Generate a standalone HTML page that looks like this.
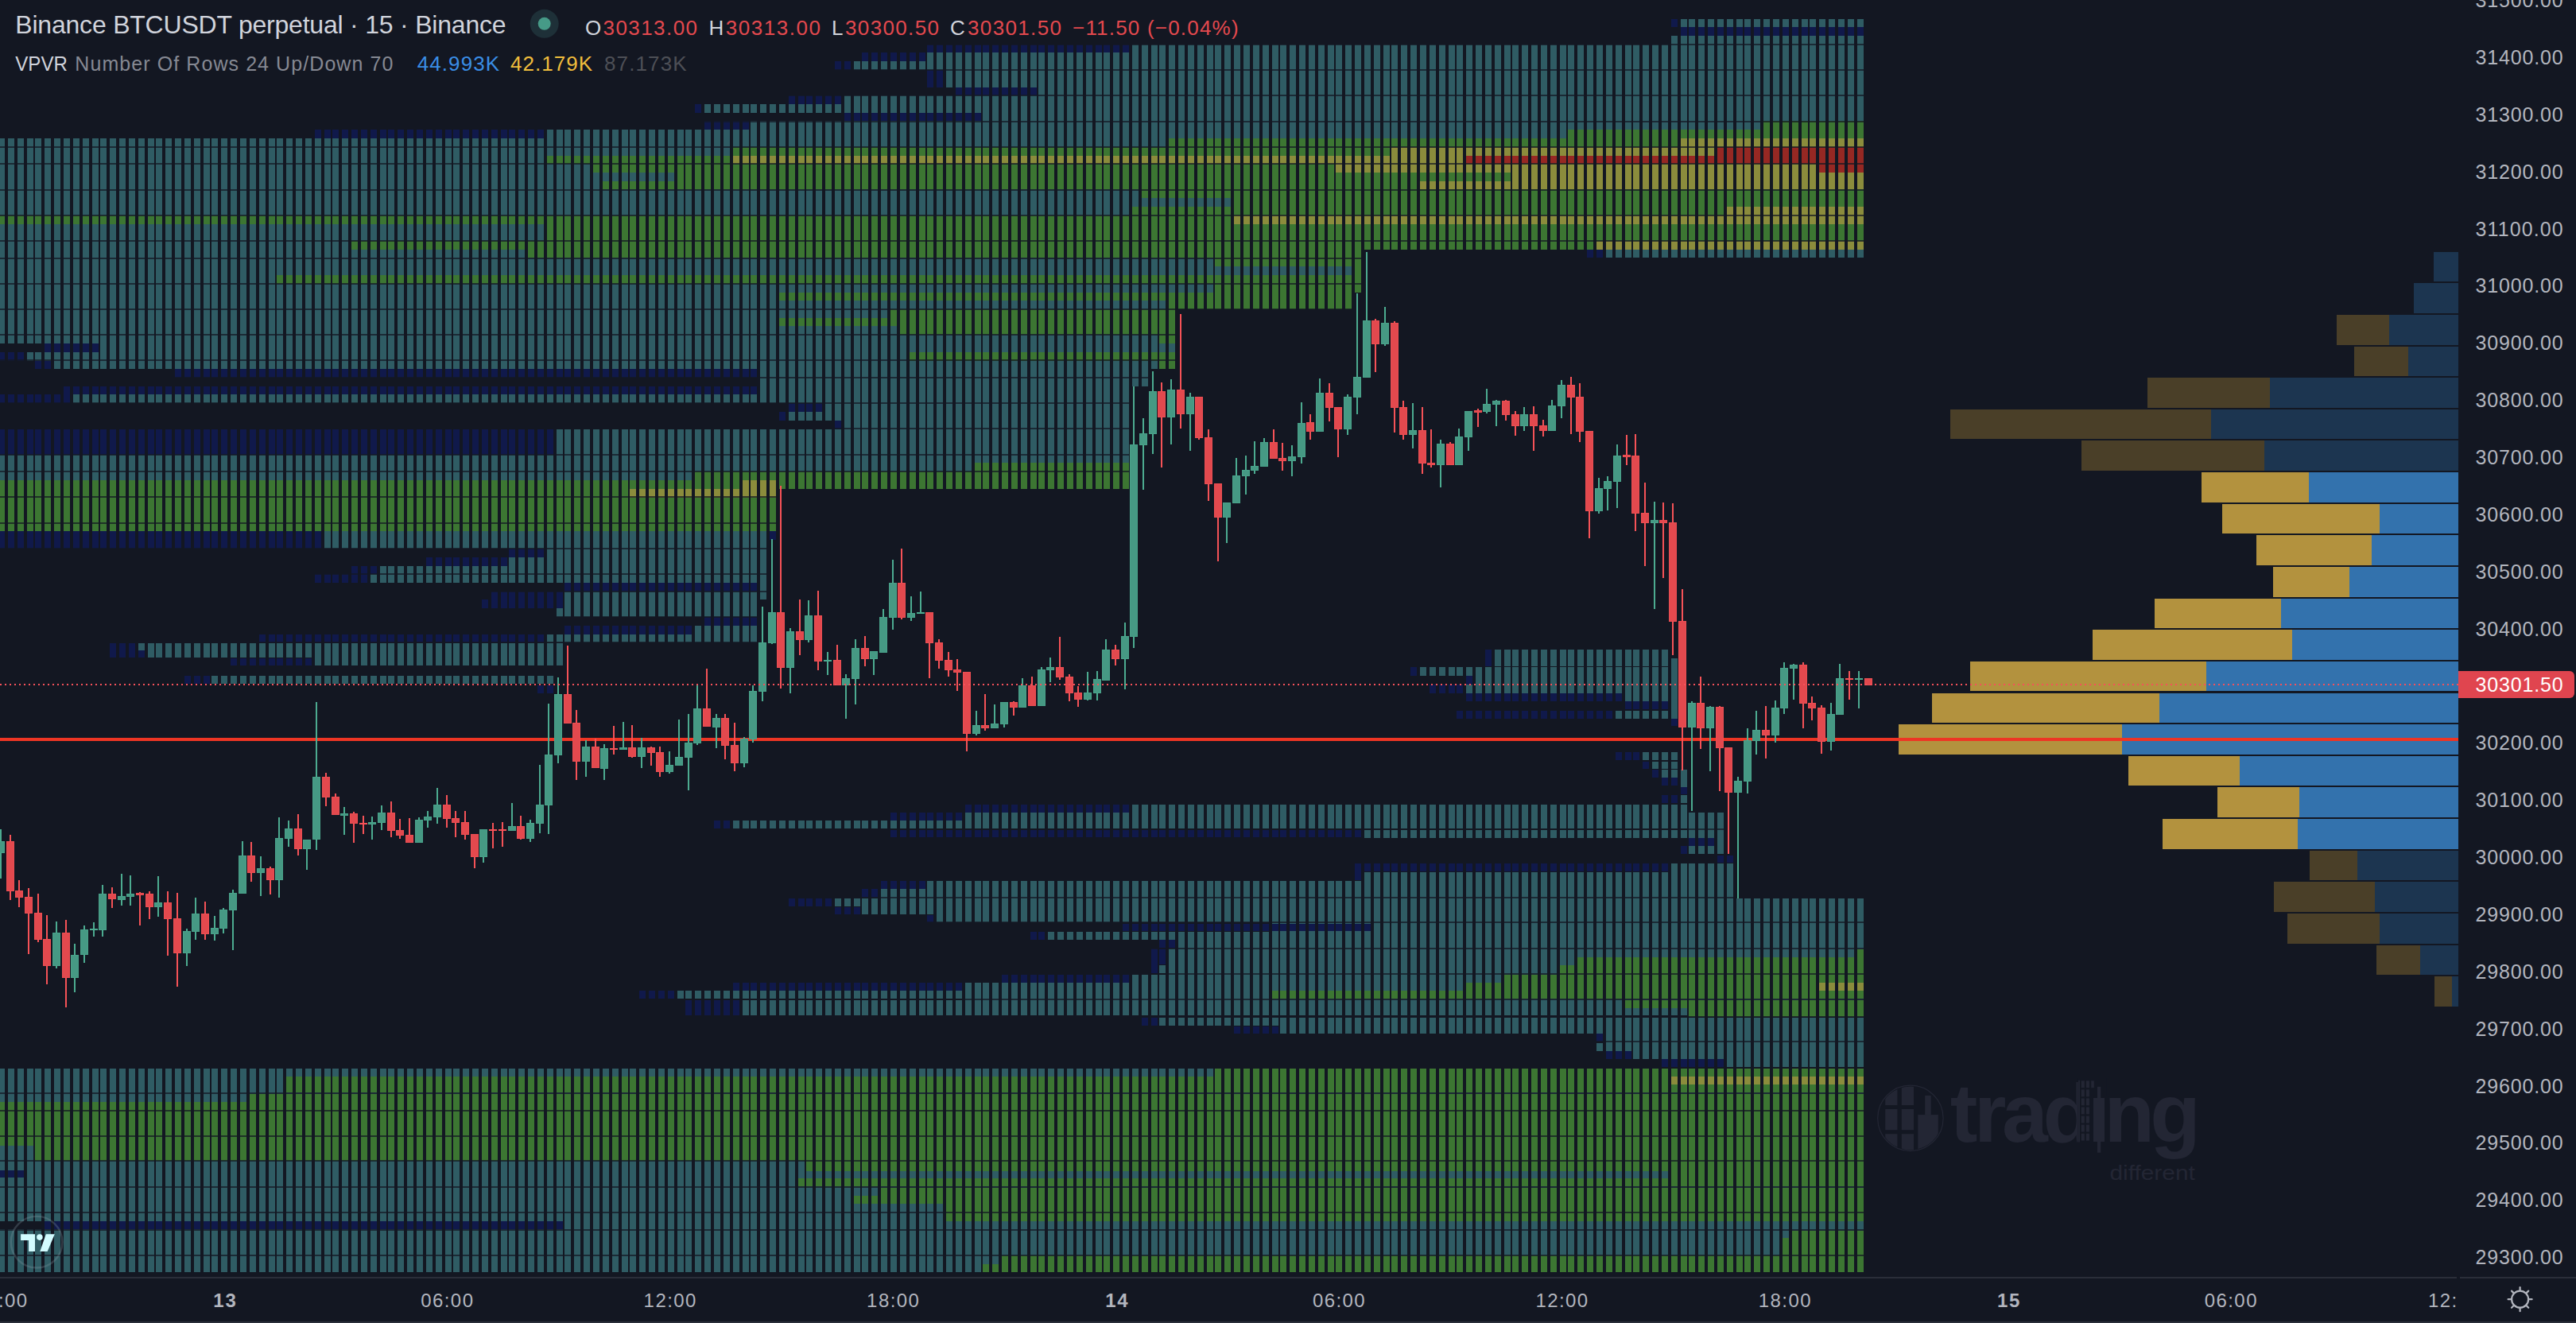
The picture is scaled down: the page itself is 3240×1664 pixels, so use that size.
<!DOCTYPE html>
<html lang="en"><head><meta charset="utf-8"><title>Binance BTCUSDT perpetual</title>
<style>html,body{margin:0;padding:0;background:#131722;overflow:hidden}svg{display:block}text{font-family:"Liberation Sans",sans-serif}</style></head><body>
<svg width="3240" height="1664" viewBox="0 0 3240 1664">
<rect width="3240" height="1664" fill="#131722"/>
<g shape-rendering="crispEdges">
<rect x="2102" y="24" width="8" height="10" fill="#10194b"/>
<rect x="2114" y="24" width="230" height="10" fill="#2f5c64"/>
<rect x="2114" y="34" width="230" height="11" fill="#10194b"/>
<rect x="2102" y="45" width="242" height="11" fill="#2f5c64"/>
<rect x="1166" y="56" width="254" height="10" fill="#10194b"/>
<rect x="1424" y="56" width="920" height="10" fill="#2f5c64"/>
<rect x="1084" y="66" width="80" height="11" fill="#10194b"/>
<rect x="1166" y="66" width="1178" height="11" fill="#2f5c64"/>
<rect x="1050" y="77" width="20" height="11" fill="#10194b"/>
<rect x="1074" y="77" width="1270" height="11" fill="#2f5c64"/>
<rect x="1166" y="88" width="20" height="22" fill="#10194b"/>
<rect x="1190" y="88" width="1154" height="22" fill="#2f5c64"/>
<rect x="1202" y="110" width="102" height="10" fill="#10194b"/>
<rect x="1306" y="110" width="1038" height="10" fill="#2f5c64"/>
<rect x="992" y="120" width="66" height="11" fill="#10194b"/>
<rect x="1062" y="120" width="1282" height="11" fill="#2f5c64"/>
<rect x="874" y="131" width="8" height="11" fill="#10194b"/>
<rect x="886" y="131" width="1458" height="11" fill="#2f5c64"/>
<rect x="1062" y="142" width="172" height="10" fill="#10194b"/>
<rect x="1236" y="142" width="1108" height="10" fill="#2f5c64"/>
<rect x="886" y="152" width="56" height="11" fill="#10194b"/>
<rect x="944" y="152" width="1270" height="11" fill="#2f5c64"/>
<rect x="2218" y="152" width="126" height="11" fill="#3c7632"/>
<rect x="396" y="163" width="288" height="11" fill="#10194b"/>
<rect x="688" y="163" width="1282" height="11" fill="#2f5c64"/>
<rect x="1972" y="163" width="372" height="11" fill="#3c7632"/>
<rect x="0" y="174" width="1466" height="11" fill="#2f5c64"/>
<rect x="1470" y="174" width="640" height="11" fill="#3c7632"/>
<rect x="2114" y="174" width="230" height="11" fill="#8b8c3c"/>
<rect x="0" y="185" width="918" height="11" fill="#2f5c64"/>
<rect x="922" y="185" width="826" height="11" fill="#3c7632"/>
<rect x="1750" y="185" width="406" height="11" fill="#8b8c3c"/>
<rect x="2160" y="185" width="184" height="11" fill="#962823"/>
<rect x="0" y="196" width="684" height="10" fill="#2f5c64"/>
<rect x="688" y="196" width="230" height="10" fill="#3c7632"/>
<rect x="922" y="196" width="918" height="10" fill="#8b8c3c"/>
<rect x="1844" y="196" width="500" height="10" fill="#962823"/>
<rect x="0" y="206" width="742" height="11" fill="#2f5c64"/>
<rect x="746" y="206" width="932" height="11" fill="#3c7632"/>
<rect x="1680" y="206" width="604" height="11" fill="#8b8c3c"/>
<rect x="2288" y="206" width="56" height="11" fill="#962823"/>
<rect x="0" y="217" width="848" height="11" fill="#2f5c64"/>
<rect x="852" y="217" width="1048" height="11" fill="#3c7632"/>
<rect x="1902" y="217" width="442" height="11" fill="#8b8c3c"/>
<rect x="0" y="228" width="754" height="10" fill="#2f5c64"/>
<rect x="758" y="228" width="1024" height="10" fill="#3c7632"/>
<rect x="1786" y="228" width="558" height="10" fill="#8b8c3c"/>
<rect x="0" y="238" width="1432" height="11" fill="#2f5c64"/>
<rect x="1436" y="238" width="908" height="11" fill="#3c7632"/>
<rect x="0" y="249" width="1548" height="11" fill="#2f5c64"/>
<rect x="1552" y="249" width="792" height="11" fill="#3c7632"/>
<rect x="0" y="260" width="1420" height="11" fill="#2f5c64"/>
<rect x="1424" y="260" width="744" height="11" fill="#3c7632"/>
<rect x="2172" y="260" width="172" height="11" fill="#8b8c3c"/>
<rect x="0" y="271" width="1548" height="11" fill="#3c7632"/>
<rect x="1552" y="271" width="792" height="11" fill="#8b8c3c"/>
<rect x="0" y="282" width="684" height="21" fill="#2f5c64"/>
<rect x="688" y="282" width="1656" height="21" fill="#3c7632"/>
<rect x="0" y="303" width="438" height="11" fill="#2f5c64"/>
<rect x="442" y="303" width="1562" height="11" fill="#3c7632"/>
<rect x="2008" y="303" width="336" height="11" fill="#8b8c3c"/>
<rect x="0" y="314" width="660" height="10" fill="#2f5c64"/>
<rect x="664" y="314" width="1048" height="10" fill="#3c7632"/>
<rect x="1996" y="314" width="20" height="10" fill="#10194b"/>
<rect x="2020" y="314" width="324" height="10" fill="#2f5c64"/>
<rect x="0" y="324" width="1526" height="11" fill="#2f5c64"/>
<rect x="1528" y="324" width="184" height="11" fill="#3c7632"/>
<rect x="0" y="335" width="1700" height="11" fill="#2f5c64"/>
<rect x="1704" y="335" width="8" height="11" fill="#3c7632"/>
<rect x="0" y="346" width="346" height="11" fill="#2f5c64"/>
<rect x="348" y="346" width="1364" height="11" fill="#3c7632"/>
<rect x="0" y="357" width="1526" height="11" fill="#2f5c64"/>
<rect x="1528" y="357" width="184" height="11" fill="#3c7632"/>
<rect x="0" y="368" width="976" height="10" fill="#2f5c64"/>
<rect x="980" y="368" width="720" height="10" fill="#3c7632"/>
<rect x="0" y="378" width="1466" height="11" fill="#2f5c64"/>
<rect x="1470" y="378" width="230" height="11" fill="#3c7632"/>
<rect x="0" y="389" width="1116" height="11" fill="#2f5c64"/>
<rect x="1120" y="389" width="358" height="11" fill="#3c7632"/>
<rect x="0" y="400" width="976" height="10" fill="#2f5c64"/>
<rect x="980" y="400" width="498" height="10" fill="#3c7632"/>
<rect x="0" y="410" width="1128" height="11" fill="#2f5c64"/>
<rect x="1132" y="410" width="346" height="11" fill="#3c7632"/>
<rect x="0" y="421" width="1456" height="11" fill="#2f5c64"/>
<rect x="1458" y="421" width="20" height="11" fill="#3c7632"/>
<rect x="56" y="432" width="68" height="11" fill="#10194b"/>
<rect x="126" y="432" width="1352" height="11" fill="#2f5c64"/>
<rect x="0" y="443" width="30" height="11" fill="#10194b"/>
<rect x="34" y="443" width="1106" height="11" fill="#2f5c64"/>
<rect x="1144" y="443" width="334" height="11" fill="#3c7632"/>
<rect x="44" y="454" width="20" height="10" fill="#10194b"/>
<rect x="68" y="454" width="1388" height="10" fill="#2f5c64"/>
<rect x="1458" y="454" width="20" height="10" fill="#3c7632"/>
<rect x="220" y="464" width="732" height="11" fill="#10194b"/>
<rect x="956" y="464" width="488" height="22" fill="#2f5c64"/>
<rect x="80" y="486" width="872" height="10" fill="#10194b"/>
<rect x="956" y="486" width="464" height="10" fill="#2f5c64"/>
<rect x="0" y="496" width="88" height="11" fill="#10194b"/>
<rect x="92" y="496" width="1328" height="11" fill="#2f5c64"/>
<rect x="992" y="507" width="42" height="11" fill="#10194b"/>
<rect x="1038" y="507" width="382" height="11" fill="#2f5c64"/>
<rect x="980" y="518" width="8" height="11" fill="#10194b"/>
<rect x="992" y="518" width="428" height="11" fill="#2f5c64"/>
<rect x="1050" y="529" width="8" height="11" fill="#10194b"/>
<rect x="1062" y="529" width="358" height="11" fill="#2f5c64"/>
<rect x="0" y="540" width="696" height="32" fill="#10194b"/>
<rect x="700" y="540" width="720" height="32" fill="#2f5c64"/>
<rect x="0" y="572" width="1420" height="10" fill="#2f5c64"/>
<rect x="0" y="582" width="1222" height="11" fill="#2f5c64"/>
<rect x="1226" y="582" width="194" height="11" fill="#3c7632"/>
<rect x="0" y="593" width="870" height="11" fill="#2f5c64"/>
<rect x="874" y="593" width="546" height="11" fill="#3c7632"/>
<rect x="0" y="604" width="930" height="11" fill="#3c7632"/>
<rect x="934" y="604" width="42" height="11" fill="#8b8c3c"/>
<rect x="980" y="604" width="440" height="11" fill="#3c7632"/>
<rect x="0" y="615" width="790" height="11" fill="#3c7632"/>
<rect x="792" y="615" width="184" height="11" fill="#8b8c3c"/>
<rect x="0" y="626" width="976" height="42" fill="#3c7632"/>
<rect x="968" y="668" width="8" height="11" fill="#10194b"/>
<rect x="0" y="668" width="404" height="22" fill="#10194b"/>
<rect x="408" y="668" width="556" height="22" fill="#2f5c64"/>
<rect x="640" y="690" width="44" height="11" fill="#10194b"/>
<rect x="688" y="690" width="276" height="11" fill="#2f5c64"/>
<rect x="536" y="701" width="102" height="11" fill="#10194b"/>
<rect x="640" y="701" width="324" height="11" fill="#2f5c64"/>
<rect x="442" y="712" width="32" height="10" fill="#10194b"/>
<rect x="478" y="712" width="486" height="10" fill="#2f5c64"/>
<rect x="396" y="722" width="66" height="11" fill="#10194b"/>
<rect x="466" y="722" width="498" height="11" fill="#2f5c64"/>
<rect x="710" y="733" width="242" height="11" fill="#10194b"/>
<rect x="956" y="733" width="8" height="11" fill="#2f5c64"/>
<rect x="618" y="744" width="90" height="10" fill="#10194b"/>
<rect x="710" y="744" width="254" height="10" fill="#2f5c64"/>
<rect x="606" y="754" width="102" height="11" fill="#10194b"/>
<rect x="710" y="754" width="242" height="11" fill="#2f5c64"/>
<rect x="700" y="765" width="252" height="11" fill="#2f5c64"/>
<rect x="886" y="776" width="66" height="11" fill="#10194b"/>
<rect x="710" y="787" width="160" height="11" fill="#10194b"/>
<rect x="874" y="787" width="78" height="11" fill="#2f5c64"/>
<rect x="326" y="798" width="358" height="10" fill="#10194b"/>
<rect x="688" y="798" width="264" height="10" fill="#2f5c64"/>
<rect x="138" y="809" width="32" height="9" fill="#10194b"/>
<rect x="174" y="809" width="534" height="9" fill="#2f5c64"/>
<rect x="138" y="818" width="44" height="9" fill="#10194b"/>
<rect x="186" y="818" width="522" height="9" fill="#2f5c64"/>
<rect x="1880" y="817" width="218" height="11" fill="#2f5c64"/>
<rect x="396" y="827" width="312" height="10" fill="#2f5c64"/>
<rect x="290" y="828" width="102" height="9" fill="#10194b"/>
<rect x="1868" y="817" width="8" height="21" fill="#10194b"/>
<rect x="1880" y="828" width="230" height="10" fill="#2f5c64"/>
<rect x="2102" y="838" width="8" height="1" fill="#2f5c64"/>
<rect x="1774" y="839" width="8" height="11" fill="#10194b"/>
<rect x="1786" y="839" width="324" height="11" fill="#2f5c64"/>
<rect x="232" y="850" width="32" height="10" fill="#10194b"/>
<rect x="266" y="850" width="430" height="10" fill="#2f5c64"/>
<rect x="1844" y="850" width="8" height="11" fill="#10194b"/>
<rect x="1856" y="850" width="254" height="11" fill="#2f5c64"/>
<rect x="1798" y="861" width="42" height="11" fill="#10194b"/>
<rect x="1844" y="861" width="266" height="11" fill="#2f5c64"/>
<rect x="676" y="862" width="20" height="10" fill="#10194b"/>
<rect x="1844" y="872" width="196" height="10" fill="#10194b"/>
<rect x="2044" y="872" width="66" height="10" fill="#2f5c64"/>
<rect x="2044" y="882" width="54" height="10" fill="#10194b"/>
<rect x="2102" y="882" width="8" height="12" fill="#2f5c64"/>
<rect x="1832" y="894" width="196" height="10" fill="#10194b"/>
<rect x="2032" y="894" width="78" height="10" fill="#2f5c64"/>
<rect x="2102" y="904" width="8" height="9" fill="#10194b"/>
<rect x="2032" y="946" width="30" height="10" fill="#10194b"/>
<rect x="2066" y="946" width="44" height="10" fill="#2f5c64"/>
<rect x="2066" y="958" width="8" height="9" fill="#10194b"/>
<rect x="2078" y="958" width="32" height="9" fill="#2f5c64"/>
<rect x="2078" y="968" width="8" height="10" fill="#10194b"/>
<rect x="2090" y="968" width="32" height="10" fill="#2f5c64"/>
<rect x="2090" y="978" width="20" height="10" fill="#10194b"/>
<rect x="2114" y="978" width="8" height="12" fill="#2f5c64"/>
<rect x="2114" y="990" width="8" height="9" fill="#10194b"/>
<rect x="2090" y="1000" width="20" height="10" fill="#10194b"/>
<rect x="2114" y="1000" width="8" height="10" fill="#2f5c64"/>
<rect x="1214" y="1012" width="206" height="10" fill="#10194b"/>
<rect x="1424" y="1012" width="698" height="10" fill="#2f5c64"/>
<rect x="1120" y="1022" width="90" height="10" fill="#10194b"/>
<rect x="1214" y="1022" width="954" height="10" fill="#2f5c64"/>
<rect x="898" y="1032" width="20" height="10" fill="#10194b"/>
<rect x="922" y="1032" width="1246" height="10" fill="#2f5c64"/>
<rect x="2124" y="1042" width="44" height="2" fill="#2f5c64"/>
<rect x="1120" y="1044" width="592" height="9" fill="#10194b"/>
<rect x="1716" y="1044" width="452" height="10" fill="#2f5c64"/>
<rect x="2124" y="1054" width="32" height="10" fill="#10194b"/>
<rect x="2160" y="1054" width="8" height="10" fill="#2f5c64"/>
<rect x="2114" y="1064" width="8" height="10" fill="#10194b"/>
<rect x="2124" y="1064" width="44" height="10" fill="#2f5c64"/>
<rect x="2160" y="1076" width="20" height="9" fill="#10194b"/>
<rect x="1704" y="1086" width="394" height="10" fill="#10194b"/>
<rect x="2102" y="1086" width="78" height="11" fill="#2f5c64"/>
<rect x="1704" y="1096" width="8" height="11" fill="#10194b"/>
<rect x="1716" y="1097" width="464" height="11" fill="#2f5c64"/>
<rect x="1108" y="1108" width="56" height="10" fill="#10194b"/>
<rect x="1166" y="1108" width="1014" height="10" fill="#2f5c64"/>
<rect x="1084" y="1118" width="20" height="11" fill="#10194b"/>
<rect x="1108" y="1118" width="1072" height="12" fill="#2f5c64"/>
<rect x="992" y="1130" width="54" height="10" fill="#10194b"/>
<rect x="1050" y="1130" width="1294" height="10" fill="#2f5c64"/>
<rect x="1084" y="1140" width="1260" height="10" fill="#2f5c64"/>
<rect x="1050" y="1141" width="32" height="9" fill="#10194b"/>
<rect x="1178" y="1150" width="1166" height="10" fill="#2f5c64"/>
<rect x="1166" y="1151" width="8" height="9" fill="#10194b"/>
<rect x="1600" y="1160" width="744" height="2" fill="#2f5c64"/>
<rect x="1412" y="1162" width="312" height="9" fill="#10194b"/>
<rect x="1728" y="1162" width="616" height="9" fill="#2f5c64"/>
<rect x="1600" y="1171" width="744" height="1" fill="#2f5c64"/>
<rect x="1296" y="1172" width="18" height="10" fill="#10194b"/>
<rect x="1318" y="1172" width="1026" height="10" fill="#2f5c64"/>
<rect x="1458" y="1182" width="20" height="10" fill="#10194b"/>
<rect x="1482" y="1182" width="862" height="11" fill="#2f5c64"/>
<rect x="1470" y="1193" width="874" height="1" fill="#2f5c64"/>
<rect x="1470" y="1194" width="862" height="10" fill="#2f5c64"/>
<rect x="2336" y="1194" width="8" height="10" fill="#3c7632"/>
<rect x="1448" y="1193" width="18" height="20" fill="#10194b"/>
<rect x="1470" y="1204" width="510" height="10" fill="#2f5c64"/>
<rect x="1984" y="1204" width="360" height="10" fill="#3c7632"/>
<rect x="1448" y="1213" width="8" height="11" fill="#10194b"/>
<rect x="1458" y="1214" width="500" height="10" fill="#2f5c64"/>
<rect x="1962" y="1214" width="382" height="12" fill="#3c7632"/>
<rect x="1470" y="1224" width="488" height="2" fill="#2f5c64"/>
<rect x="1260" y="1226" width="160" height="10" fill="#10194b"/>
<rect x="1424" y="1226" width="464" height="10" fill="#2f5c64"/>
<rect x="1892" y="1226" width="452" height="10" fill="#3c7632"/>
<rect x="922" y="1236" width="288" height="10" fill="#10194b"/>
<rect x="1214" y="1236" width="626" height="10" fill="#2f5c64"/>
<rect x="1844" y="1236" width="440" height="10" fill="#3c7632"/>
<rect x="2288" y="1236" width="56" height="10" fill="#8b8c3c"/>
<rect x="804" y="1246" width="44" height="10" fill="#10194b"/>
<rect x="852" y="1246" width="744" height="10" fill="#2f5c64"/>
<rect x="1600" y="1246" width="744" height="10" fill="#3c7632"/>
<rect x="1214" y="1256" width="1130" height="2" fill="#2f5c64"/>
<rect x="934" y="1258" width="1106" height="10" fill="#2f5c64"/>
<rect x="2044" y="1258" width="300" height="10" fill="#3c7632"/>
<rect x="862" y="1258" width="68" height="19" fill="#10194b"/>
<rect x="934" y="1268" width="1188" height="9" fill="#2f5c64"/>
<rect x="2124" y="1268" width="220" height="11" fill="#3c7632"/>
<rect x="1436" y="1280" width="20" height="10" fill="#10194b"/>
<rect x="1458" y="1280" width="886" height="10" fill="#2f5c64"/>
<rect x="1610" y="1290" width="734" height="10" fill="#2f5c64"/>
<rect x="1552" y="1291" width="56" height="9" fill="#10194b"/>
<rect x="2008" y="1300" width="8" height="10" fill="#10194b"/>
<rect x="2020" y="1300" width="324" height="12" fill="#2f5c64"/>
<rect x="2008" y="1312" width="336" height="10" fill="#2f5c64"/>
<rect x="2020" y="1322" width="32" height="10" fill="#10194b"/>
<rect x="2054" y="1322" width="290" height="10" fill="#2f5c64"/>
<rect x="2090" y="1332" width="78" height="10" fill="#10194b"/>
<rect x="2172" y="1332" width="172" height="10" fill="#2f5c64"/>
<rect x="0" y="1344" width="1526" height="10" fill="#2f5c64"/>
<rect x="1528" y="1344" width="816" height="10" fill="#3c7632"/>
<rect x="360" y="1354" width="1738" height="10" fill="#3c7632"/>
<rect x="2102" y="1354" width="242" height="10" fill="#8b8c3c"/>
<rect x="0" y="1354" width="356" height="20" fill="#2f5c64"/>
<rect x="360" y="1364" width="1984" height="10" fill="#3c7632"/>
<rect x="0" y="1374" width="2344" height="2" fill="#2f5c64"/>
<rect x="0" y="1376" width="310" height="10" fill="#2f5c64"/>
<rect x="314" y="1376" width="2030" height="10" fill="#3c7632"/>
<rect x="0" y="1386" width="2344" height="55" fill="#3c7632"/>
<rect x="0" y="1441" width="42" height="19" fill="#2f5c64"/>
<rect x="44" y="1441" width="2300" height="19" fill="#3c7632"/>
<rect x="0" y="1460" width="1012" height="12" fill="#2f5c64"/>
<rect x="1014" y="1460" width="1330" height="13" fill="#3c7632"/>
<rect x="34" y="1472" width="978" height="1" fill="#2f5c64"/>
<rect x="0" y="1472" width="30" height="9" fill="#10194b"/>
<rect x="34" y="1473" width="2064" height="8" fill="#2f5c64"/>
<rect x="2102" y="1473" width="242" height="9" fill="#3c7632"/>
<rect x="0" y="1481" width="2098" height="1" fill="#2f5c64"/>
<rect x="0" y="1482" width="1000" height="10" fill="#2f5c64"/>
<rect x="1004" y="1482" width="1340" height="10" fill="#3c7632"/>
<rect x="0" y="1492" width="2344" height="2" fill="#2f5c64"/>
<rect x="0" y="1494" width="1104" height="10" fill="#2f5c64"/>
<rect x="1108" y="1494" width="1236" height="10" fill="#3c7632"/>
<rect x="0" y="1504" width="1070" height="10" fill="#2f5c64"/>
<rect x="1074" y="1504" width="1270" height="10" fill="#3c7632"/>
<rect x="0" y="1514" width="1186" height="22" fill="#2f5c64"/>
<rect x="1190" y="1514" width="1154" height="22" fill="#3c7632"/>
<rect x="56" y="1536" width="652" height="10" fill="#10194b"/>
<rect x="710" y="1536" width="1634" height="10" fill="#2f5c64"/>
<rect x="0" y="1546" width="2344" height="2" fill="#2f5c64"/>
<rect x="0" y="1548" width="2250" height="9" fill="#2f5c64"/>
<rect x="2254" y="1548" width="90" height="9" fill="#3c7632"/>
<rect x="0" y="1557" width="2238" height="22" fill="#2f5c64"/>
<rect x="2242" y="1557" width="102" height="22" fill="#3c7632"/>
<rect x="0" y="1579" width="1256" height="11" fill="#2f5c64"/>
<rect x="1260" y="1579" width="1084" height="11" fill="#3c7632"/>
<rect x="0" y="1590" width="1234" height="10" fill="#2f5c64"/>
<rect x="1236" y="1590" width="1108" height="10" fill="#3c7632"/>
</g>
<g fill="#131722" fill-opacity="0.72" shape-rendering="crispEdges">
<rect x="0" y="55" width="2346" height="2"/>
<rect x="0" y="87" width="2346" height="2"/>
<rect x="0" y="119" width="2346" height="2"/>
<rect x="0" y="152" width="2346" height="2"/>
<rect x="0" y="184" width="2346" height="2"/>
<rect x="0" y="205" width="2346" height="2"/>
<rect x="0" y="238" width="2346" height="2"/>
<rect x="0" y="270" width="2346" height="2"/>
<rect x="0" y="302" width="2346" height="2"/>
<rect x="0" y="324" width="2346" height="2"/>
<rect x="0" y="356" width="2346" height="2"/>
<rect x="0" y="388" width="2346" height="2"/>
<rect x="0" y="420" width="2346" height="2"/>
<rect x="0" y="452" width="2346" height="2"/>
<rect x="0" y="474" width="2346" height="2"/>
<rect x="0" y="506" width="2346" height="2"/>
<rect x="0" y="538" width="2346" height="2"/>
<rect x="0" y="571" width="2346" height="2"/>
<rect x="0" y="592" width="2346" height="2"/>
<rect x="0" y="624" width="2346" height="2"/>
<rect x="0" y="657" width="2346" height="2"/>
<rect x="0" y="689" width="2346" height="2"/>
<rect x="0" y="721" width="2346" height="2"/>
<rect x="0" y="743" width="2346" height="2"/>
<rect x="0" y="775" width="2346" height="2"/>
<rect x="0" y="807" width="2346" height="2"/>
<rect x="0" y="1042" width="2346" height="2"/>
<rect x="0" y="1128" width="2346" height="2"/>
<rect x="0" y="1159" width="2346" height="2"/>
<rect x="0" y="1192" width="2346" height="2"/>
<rect x="0" y="1224" width="2346" height="2"/>
<rect x="0" y="1256" width="2346" height="2"/>
<rect x="0" y="1278" width="2346" height="2"/>
<rect x="0" y="1309" width="2346" height="2"/>
<rect x="0" y="1374" width="2346" height="2"/>
<rect x="0" y="1396" width="2346" height="2"/>
<rect x="0" y="1428" width="2346" height="2"/>
<rect x="0" y="1459" width="2346" height="2"/>
<rect x="0" y="1492" width="2346" height="2"/>
<rect x="0" y="1524" width="2346" height="2"/>
<rect x="0" y="1546" width="2346" height="2"/>
<rect x="0" y="1578" width="2346" height="2"/>
</g>
<g fill="#131722" shape-rendering="crispEdges">
<rect x="6" y="0" width="4" height="1606"/>
<rect x="18" y="0" width="4" height="1606"/>
<rect x="30" y="0" width="4" height="1606"/>
<rect x="42" y="0" width="2" height="1606"/>
<rect x="52" y="0" width="4" height="1606"/>
<rect x="64" y="0" width="4" height="1606"/>
<rect x="76" y="0" width="4" height="1606"/>
<rect x="88" y="0" width="4" height="1606"/>
<rect x="100" y="0" width="4" height="1606"/>
<rect x="112" y="0" width="4" height="1606"/>
<rect x="124" y="0" width="2" height="1606"/>
<rect x="134" y="0" width="4" height="1606"/>
<rect x="146" y="0" width="4" height="1606"/>
<rect x="158" y="0" width="4" height="1606"/>
<rect x="170" y="0" width="4" height="1606"/>
<rect x="182" y="0" width="4" height="1606"/>
<rect x="194" y="0" width="2" height="1606"/>
<rect x="204" y="0" width="4" height="1606"/>
<rect x="216" y="0" width="4" height="1606"/>
<rect x="228" y="0" width="4" height="1606"/>
<rect x="240" y="0" width="4" height="1606"/>
<rect x="252" y="0" width="4" height="1606"/>
<rect x="264" y="0" width="2" height="1606"/>
<rect x="274" y="0" width="4" height="1606"/>
<rect x="286" y="0" width="4" height="1606"/>
<rect x="298" y="0" width="4" height="1606"/>
<rect x="310" y="0" width="4" height="1606"/>
<rect x="322" y="0" width="4" height="1606"/>
<rect x="334" y="0" width="4" height="1606"/>
<rect x="346" y="0" width="2" height="1606"/>
<rect x="356" y="0" width="4" height="1606"/>
<rect x="368" y="0" width="4" height="1606"/>
<rect x="380" y="0" width="4" height="1606"/>
<rect x="392" y="0" width="4" height="1606"/>
<rect x="404" y="0" width="4" height="1606"/>
<rect x="416" y="0" width="2" height="1606"/>
<rect x="426" y="0" width="4" height="1606"/>
<rect x="438" y="0" width="4" height="1606"/>
<rect x="450" y="0" width="4" height="1606"/>
<rect x="462" y="0" width="4" height="1606"/>
<rect x="474" y="0" width="4" height="1606"/>
<rect x="486" y="0" width="2" height="1606"/>
<rect x="496" y="0" width="4" height="1606"/>
<rect x="508" y="0" width="4" height="1606"/>
<rect x="520" y="0" width="4" height="1606"/>
<rect x="532" y="0" width="4" height="1606"/>
<rect x="544" y="0" width="4" height="1606"/>
<rect x="556" y="0" width="4" height="1606"/>
<rect x="568" y="0" width="2" height="1606"/>
<rect x="578" y="0" width="4" height="1606"/>
<rect x="590" y="0" width="4" height="1606"/>
<rect x="602" y="0" width="4" height="1606"/>
<rect x="614" y="0" width="4" height="1606"/>
<rect x="626" y="0" width="4" height="1606"/>
<rect x="638" y="0" width="2" height="1606"/>
<rect x="648" y="0" width="4" height="1606"/>
<rect x="660" y="0" width="4" height="1606"/>
<rect x="672" y="0" width="4" height="1606"/>
<rect x="684" y="0" width="4" height="1606"/>
<rect x="696" y="0" width="4" height="1606"/>
<rect x="708" y="0" width="2" height="1606"/>
<rect x="718" y="0" width="4" height="1606"/>
<rect x="730" y="0" width="4" height="1606"/>
<rect x="742" y="0" width="4" height="1606"/>
<rect x="754" y="0" width="4" height="1606"/>
<rect x="766" y="0" width="4" height="1606"/>
<rect x="778" y="0" width="4" height="1606"/>
<rect x="790" y="0" width="2" height="1606"/>
<rect x="800" y="0" width="4" height="1606"/>
<rect x="812" y="0" width="4" height="1606"/>
<rect x="824" y="0" width="4" height="1606"/>
<rect x="836" y="0" width="4" height="1606"/>
<rect x="848" y="0" width="4" height="1606"/>
<rect x="860" y="0" width="2" height="1606"/>
<rect x="870" y="0" width="4" height="1606"/>
<rect x="882" y="0" width="4" height="1606"/>
<rect x="894" y="0" width="4" height="1606"/>
<rect x="906" y="0" width="4" height="1606"/>
<rect x="918" y="0" width="4" height="1606"/>
<rect x="930" y="0" width="4" height="1606"/>
<rect x="942" y="0" width="2" height="1606"/>
<rect x="952" y="0" width="4" height="1606"/>
<rect x="964" y="0" width="4" height="1606"/>
<rect x="976" y="0" width="4" height="1606"/>
<rect x="988" y="0" width="4" height="1606"/>
<rect x="1000" y="0" width="4" height="1606"/>
<rect x="1012" y="0" width="2" height="1606"/>
<rect x="1022" y="0" width="4" height="1606"/>
<rect x="1034" y="0" width="4" height="1606"/>
<rect x="1046" y="0" width="4" height="1606"/>
<rect x="1058" y="0" width="4" height="1606"/>
<rect x="1070" y="0" width="4" height="1606"/>
<rect x="1082" y="0" width="2" height="1606"/>
<rect x="1092" y="0" width="4" height="1606"/>
<rect x="1104" y="0" width="4" height="1606"/>
<rect x="1116" y="0" width="4" height="1606"/>
<rect x="1128" y="0" width="4" height="1606"/>
<rect x="1140" y="0" width="4" height="1606"/>
<rect x="1152" y="0" width="4" height="1606"/>
<rect x="1164" y="0" width="2" height="1606"/>
<rect x="1174" y="0" width="4" height="1606"/>
<rect x="1186" y="0" width="4" height="1606"/>
<rect x="1198" y="0" width="4" height="1606"/>
<rect x="1210" y="0" width="4" height="1606"/>
<rect x="1222" y="0" width="4" height="1606"/>
<rect x="1234" y="0" width="2" height="1606"/>
<rect x="1244" y="0" width="4" height="1606"/>
<rect x="1256" y="0" width="4" height="1606"/>
<rect x="1268" y="0" width="4" height="1606"/>
<rect x="1280" y="0" width="4" height="1606"/>
<rect x="1292" y="0" width="4" height="1606"/>
<rect x="1304" y="0" width="2" height="1606"/>
<rect x="1314" y="0" width="4" height="1606"/>
<rect x="1326" y="0" width="4" height="1606"/>
<rect x="1338" y="0" width="4" height="1606"/>
<rect x="1350" y="0" width="4" height="1606"/>
<rect x="1362" y="0" width="4" height="1606"/>
<rect x="1374" y="0" width="4" height="1606"/>
<rect x="1386" y="0" width="2" height="1606"/>
<rect x="1396" y="0" width="4" height="1606"/>
<rect x="1408" y="0" width="4" height="1606"/>
<rect x="1420" y="0" width="4" height="1606"/>
<rect x="1432" y="0" width="4" height="1606"/>
<rect x="1444" y="0" width="4" height="1606"/>
<rect x="1456" y="0" width="2" height="1606"/>
<rect x="1466" y="0" width="4" height="1606"/>
<rect x="1478" y="0" width="4" height="1606"/>
<rect x="1490" y="0" width="4" height="1606"/>
<rect x="1502" y="0" width="4" height="1606"/>
<rect x="1514" y="0" width="4" height="1606"/>
<rect x="1526" y="0" width="2" height="1606"/>
<rect x="1536" y="0" width="4" height="1606"/>
<rect x="1548" y="0" width="4" height="1606"/>
<rect x="1560" y="0" width="4" height="1606"/>
<rect x="1572" y="0" width="4" height="1606"/>
<rect x="1584" y="0" width="4" height="1606"/>
<rect x="1596" y="0" width="4" height="1606"/>
<rect x="1608" y="0" width="2" height="1606"/>
<rect x="1618" y="0" width="4" height="1606"/>
<rect x="1630" y="0" width="4" height="1606"/>
<rect x="1642" y="0" width="4" height="1606"/>
<rect x="1654" y="0" width="4" height="1606"/>
<rect x="1666" y="0" width="4" height="1606"/>
<rect x="1678" y="0" width="2" height="1606"/>
<rect x="1688" y="0" width="4" height="1606"/>
<rect x="1700" y="0" width="4" height="1606"/>
<rect x="1712" y="0" width="4" height="1606"/>
<rect x="1724" y="0" width="4" height="1606"/>
<rect x="1736" y="0" width="4" height="1606"/>
<rect x="1748" y="0" width="2" height="1606"/>
<rect x="1758" y="0" width="4" height="1606"/>
<rect x="1770" y="0" width="4" height="1606"/>
<rect x="1782" y="0" width="4" height="1606"/>
<rect x="1794" y="0" width="4" height="1606"/>
<rect x="1806" y="0" width="4" height="1606"/>
<rect x="1818" y="0" width="4" height="1606"/>
<rect x="1830" y="0" width="2" height="1606"/>
<rect x="1840" y="0" width="4" height="1606"/>
<rect x="1852" y="0" width="4" height="1606"/>
<rect x="1864" y="0" width="4" height="1606"/>
<rect x="1876" y="0" width="4" height="1606"/>
<rect x="1888" y="0" width="4" height="1606"/>
<rect x="1900" y="0" width="2" height="1606"/>
<rect x="1910" y="0" width="4" height="1606"/>
<rect x="1922" y="0" width="4" height="1606"/>
<rect x="1934" y="0" width="4" height="1606"/>
<rect x="1946" y="0" width="4" height="1606"/>
<rect x="1958" y="0" width="4" height="1606"/>
<rect x="1970" y="0" width="2" height="1606"/>
<rect x="1980" y="0" width="4" height="1606"/>
<rect x="1992" y="0" width="4" height="1606"/>
<rect x="2004" y="0" width="4" height="1606"/>
<rect x="2016" y="0" width="4" height="1606"/>
<rect x="2028" y="0" width="4" height="1606"/>
<rect x="2040" y="0" width="4" height="1606"/>
<rect x="2052" y="0" width="2" height="1606"/>
<rect x="2062" y="0" width="4" height="1606"/>
<rect x="2074" y="0" width="4" height="1606"/>
<rect x="2086" y="0" width="4" height="1606"/>
<rect x="2098" y="0" width="4" height="1606"/>
<rect x="2110" y="0" width="4" height="1606"/>
<rect x="2122" y="0" width="2" height="1606"/>
<rect x="2132" y="0" width="4" height="1606"/>
<rect x="2144" y="0" width="4" height="1606"/>
<rect x="2156" y="0" width="4" height="1606"/>
<rect x="2168" y="0" width="4" height="1606"/>
<rect x="2180" y="0" width="4" height="1606"/>
<rect x="2192" y="0" width="2" height="1606"/>
<rect x="2202" y="0" width="4" height="1606"/>
<rect x="2214" y="0" width="4" height="1606"/>
<rect x="2226" y="0" width="4" height="1606"/>
<rect x="2238" y="0" width="4" height="1606"/>
<rect x="2250" y="0" width="4" height="1606"/>
<rect x="2262" y="0" width="4" height="1606"/>
<rect x="2274" y="0" width="2" height="1606"/>
<rect x="2284" y="0" width="4" height="1606"/>
<rect x="2296" y="0" width="4" height="1606"/>
<rect x="2308" y="0" width="4" height="1606"/>
<rect x="2320" y="0" width="4" height="1606"/>
<rect x="2332" y="0" width="4" height="1606"/>
<rect x="2344" y="0" width="2" height="1606"/>
</g>
<g fill="#232634">
<clipPath id="wc"><circle cx="2402.9" cy="1406.4" r="40"/></clipPath>
<circle cx="2402.9" cy="1406.4" r="41.2" fill="none" stroke="#232634" stroke-width="1.2"/>
<g clip-path="url(#wc)">
<rect x="2371.2" y="1361.4" width="15.2" height="28.6"/>
<rect x="2371.2" y="1395" width="15.2" height="26.2"/>
<rect x="2371.2" y="1426.2" width="15.2" height="24.5"/>
<rect x="2391.8" y="1361.4" width="15.2" height="28.6"/>
<rect x="2391.8" y="1395" width="15.2" height="26.2"/>
<rect x="2391.8" y="1426.2" width="15.2" height="24.5"/>
<rect x="2412.3" y="1402.1" width="25.5" height="48.6"/>
<rect x="2421.2" y="1377.9" width="7.5" height="24.6"/>
</g>
<text y="1436.4" font-size="104" font-weight="bold" x="2452.8 2483 2518 2569.5 2625.4 2646.4 2704.3">trading</text>
<text x="2653.4" y="1483.8" font-size="26.5" textLength="107.5" lengthAdjust="spacingAndGlyphs">different</text>
</g>
<rect x="2630.5" y="1356" width="19" height="23" fill="#131722"/>
<rect x="2637.9" y="1366.8" width="4.3" height="83" fill="#232634"/>
<rect x="2613.6" y="1356" width="19" height="81" fill="#131722"/>
<g fill="#232634">
<rect x="2614.1" y="1358.8" width="1.8" height="77.6"/>
<rect x="2617.7" y="1359.3" width="4.1" height="8.9"/>
<rect x="2623.9" y="1359.3" width="4" height="8.9"/>
<rect x="2630.2" y="1359.3" width="3.6" height="8.9"/>
<rect x="2617.7" y="1370.4" width="4.1" height="8.9"/>
<rect x="2623.9" y="1370.4" width="4" height="8.9"/>
<rect x="2617.7" y="1381.4" width="4.1" height="8.9"/>
<rect x="2623.9" y="1381.4" width="4" height="8.9"/>
<rect x="2617.7" y="1392.5" width="4.1" height="8.9"/>
<rect x="2623.9" y="1392.5" width="4" height="8.9"/>
<rect x="2617.7" y="1403.6" width="4.1" height="8.9"/>
<rect x="2623.9" y="1403.6" width="4" height="8.9"/>
<rect x="2617.7" y="1414.6" width="4.1" height="8.9"/>
<rect x="2623.9" y="1414.6" width="4" height="8.9"/>
<rect x="2617.7" y="1425.7" width="4.1" height="8.9"/>
<rect x="2623.9" y="1425.7" width="4" height="8.9"/>
</g>
<g shape-rendering="crispEdges">
<rect x="3061" y="317" width="31" height="37" fill="#1c3550"/>
<rect x="3036" y="356" width="56" height="38" fill="#1c3550"/>
<rect x="3005" y="396" width="87" height="38" fill="#1c3550"/>
<rect x="2939" y="396" width="66" height="38" fill="#4a3f28"/>
<rect x="3029" y="436" width="63" height="37" fill="#1c3550"/>
<rect x="2961" y="436" width="68" height="37" fill="#4a3f28"/>
<rect x="2855" y="475" width="237" height="38" fill="#1c3550"/>
<rect x="2701" y="475" width="154" height="38" fill="#4a3f28"/>
<rect x="2781" y="515" width="311" height="37" fill="#1c3550"/>
<rect x="2453" y="515" width="328" height="37" fill="#4a3f28"/>
<rect x="2848" y="554" width="244" height="38" fill="#1c3550"/>
<rect x="2618" y="554" width="230" height="38" fill="#4a3f28"/>
<rect x="2904" y="594" width="188" height="38" fill="#3372ad"/>
<rect x="2769" y="594" width="135" height="38" fill="#b3923e"/>
<rect x="2993" y="634" width="99" height="37" fill="#3372ad"/>
<rect x="2795" y="634" width="198" height="37" fill="#b3923e"/>
<rect x="2983" y="673" width="109" height="38" fill="#3372ad"/>
<rect x="2838" y="673" width="145" height="38" fill="#b3923e"/>
<rect x="2955" y="713" width="137" height="38" fill="#3372ad"/>
<rect x="2859" y="713" width="96" height="38" fill="#b3923e"/>
<rect x="2869" y="753" width="223" height="37" fill="#3372ad"/>
<rect x="2710" y="753" width="159" height="37" fill="#b3923e"/>
<rect x="2883" y="792" width="209" height="38" fill="#3372ad"/>
<rect x="2632" y="792" width="251" height="38" fill="#b3923e"/>
<rect x="2775" y="832" width="317" height="37" fill="#3372ad"/>
<rect x="2478" y="832" width="297" height="37" fill="#b3923e"/>
<rect x="2716" y="872" width="376" height="37" fill="#3372ad"/>
<rect x="2430" y="872" width="286" height="37" fill="#b3923e"/>
<rect x="2669" y="911" width="423" height="38" fill="#3372ad"/>
<rect x="2388" y="911" width="281" height="38" fill="#b3923e"/>
<rect x="2817" y="951" width="275" height="37" fill="#3372ad"/>
<rect x="2677" y="951" width="140" height="37" fill="#b3923e"/>
<rect x="2892" y="990" width="200" height="38" fill="#3372ad"/>
<rect x="2789" y="990" width="103" height="38" fill="#b3923e"/>
<rect x="2890" y="1030" width="202" height="38" fill="#3372ad"/>
<rect x="2720" y="1030" width="170" height="38" fill="#b3923e"/>
<rect x="2965" y="1070" width="127" height="37" fill="#1c3550"/>
<rect x="2905" y="1070" width="60" height="37" fill="#4a3f28"/>
<rect x="2987" y="1109" width="105" height="38" fill="#1c3550"/>
<rect x="2860" y="1109" width="127" height="38" fill="#4a3f28"/>
<rect x="2993" y="1149" width="99" height="38" fill="#1c3550"/>
<rect x="2877" y="1149" width="116" height="38" fill="#4a3f28"/>
<rect x="3044" y="1189" width="48" height="37" fill="#1c3550"/>
<rect x="2989" y="1189" width="55" height="37" fill="#4a3f28"/>
<rect x="3084" y="1228" width="8" height="38" fill="#1c3550"/>
<rect x="3062" y="1228" width="22" height="38" fill="#4a3f28"/>
</g>
<rect x="0" y="928" width="3092" height="4" fill="#ee3524" shape-rendering="crispEdges"/>
<g shape-rendering="crispEdges">
<rect x="0" y="1043" width="2" height="62" fill="#4cab90"/>
<rect x="12" y="1050" width="2" height="82" fill="#f55257"/>
<rect x="23" y="1107" width="2" height="34" fill="#f55257"/>
<rect x="35" y="1117" width="2" height="83" fill="#f55257"/>
<rect x="47" y="1124" width="2" height="61" fill="#f55257"/>
<rect x="58" y="1151" width="2" height="87" fill="#f55257"/>
<rect x="70" y="1159" width="2" height="59" fill="#4cab90"/>
<rect x="82" y="1157" width="2" height="110" fill="#f55257"/>
<rect x="93" y="1187" width="2" height="61" fill="#4cab90"/>
<rect x="105" y="1164" width="2" height="47" fill="#4cab90"/>
<rect x="117" y="1160" width="2" height="18" fill="#4cab90"/>
<rect x="128" y="1113" width="2" height="65" fill="#4cab90"/>
<rect x="140" y="1116" width="2" height="26" fill="#f55257"/>
<rect x="152" y="1099" width="2" height="40" fill="#4cab90"/>
<rect x="163" y="1101" width="2" height="38" fill="#4cab90"/>
<rect x="175" y="1122" width="2" height="42" fill="#f55257"/>
<rect x="187" y="1121" width="2" height="35" fill="#f55257"/>
<rect x="198" y="1102" width="2" height="51" fill="#4cab90"/>
<rect x="210" y="1121" width="2" height="81" fill="#f55257"/>
<rect x="222" y="1123" width="2" height="118" fill="#f55257"/>
<rect x="234" y="1168" width="2" height="47" fill="#4cab90"/>
<rect x="245" y="1129" width="2" height="53" fill="#4cab90"/>
<rect x="257" y="1134" width="2" height="48" fill="#f55257"/>
<rect x="269" y="1152" width="2" height="31" fill="#4cab90"/>
<rect x="280" y="1142" width="2" height="32" fill="#4cab90"/>
<rect x="292" y="1119" width="2" height="76" fill="#4cab90"/>
<rect x="304" y="1058" width="2" height="66" fill="#4cab90"/>
<rect x="315" y="1059" width="2" height="50" fill="#f55257"/>
<rect x="327" y="1077" width="2" height="50" fill="#4cab90"/>
<rect x="339" y="1090" width="2" height="35" fill="#f55257"/>
<rect x="350" y="1028" width="2" height="101" fill="#4cab90"/>
<rect x="362" y="1032" width="2" height="33" fill="#4cab90"/>
<rect x="374" y="1024" width="2" height="52" fill="#f55257"/>
<rect x="385" y="1056" width="2" height="38" fill="#4cab90"/>
<rect x="397" y="883" width="2" height="186" fill="#4cab90"/>
<rect x="409" y="972" width="2" height="42" fill="#f55257"/>
<rect x="421" y="998" width="2" height="27" fill="#f55257"/>
<rect x="432" y="1015" width="2" height="35" fill="#4cab90"/>
<rect x="444" y="1021" width="2" height="39" fill="#f55257"/>
<rect x="456" y="1026" width="2" height="23" fill="#f55257"/>
<rect x="467" y="1027" width="2" height="29" fill="#4cab90"/>
<rect x="479" y="1013" width="2" height="31" fill="#4cab90"/>
<rect x="491" y="1008" width="2" height="45" fill="#f55257"/>
<rect x="502" y="1030" width="2" height="25" fill="#f55257"/>
<rect x="514" y="1029" width="2" height="31" fill="#f55257"/>
<rect x="526" y="1028" width="2" height="32" fill="#4cab90"/>
<rect x="537" y="1020" width="2" height="21" fill="#4cab90"/>
<rect x="549" y="991" width="2" height="45" fill="#4cab90"/>
<rect x="561" y="1000" width="2" height="41" fill="#f55257"/>
<rect x="572" y="1020" width="2" height="33" fill="#f55257"/>
<rect x="584" y="1020" width="2" height="36" fill="#f55257"/>
<rect x="596" y="1049" width="2" height="43" fill="#f55257"/>
<rect x="607" y="1043" width="2" height="42" fill="#4cab90"/>
<rect x="619" y="1035" width="2" height="32" fill="#f55257"/>
<rect x="631" y="1034" width="2" height="31" fill="#f55257"/>
<rect x="643" y="1010" width="2" height="35" fill="#4cab90"/>
<rect x="654" y="1026" width="2" height="30" fill="#f55257"/>
<rect x="666" y="1031" width="2" height="28" fill="#4cab90"/>
<rect x="678" y="962" width="2" height="86" fill="#4cab90"/>
<rect x="689" y="885" width="2" height="164" fill="#4cab90"/>
<rect x="701" y="852" width="2" height="108" fill="#4cab90"/>
<rect x="713" y="812" width="2" height="98" fill="#f55257"/>
<rect x="724" y="893" width="2" height="88" fill="#f55257"/>
<rect x="736" y="931" width="2" height="46" fill="#4cab90"/>
<rect x="748" y="929" width="2" height="37" fill="#f55257"/>
<rect x="759" y="936" width="2" height="45" fill="#4cab90"/>
<rect x="771" y="913" width="2" height="36" fill="#f55257"/>
<rect x="783" y="908" width="2" height="35" fill="#4cab90"/>
<rect x="794" y="912" width="2" height="41" fill="#f55257"/>
<rect x="806" y="928" width="2" height="38" fill="#4cab90"/>
<rect x="818" y="939" width="2" height="24" fill="#f55257"/>
<rect x="829" y="939" width="2" height="38" fill="#f55257"/>
<rect x="841" y="945" width="2" height="28" fill="#4cab90"/>
<rect x="853" y="905" width="2" height="58" fill="#4cab90"/>
<rect x="865" y="898" width="2" height="96" fill="#4cab90"/>
<rect x="876" y="860" width="2" height="77" fill="#4cab90"/>
<rect x="888" y="841" width="2" height="73" fill="#f55257"/>
<rect x="900" y="898" width="2" height="43" fill="#4cab90"/>
<rect x="911" y="898" width="2" height="57" fill="#f55257"/>
<rect x="923" y="909" width="2" height="61" fill="#f55257"/>
<rect x="935" y="927" width="2" height="38" fill="#4cab90"/>
<rect x="946" y="862" width="2" height="72" fill="#4cab90"/>
<rect x="958" y="763" width="2" height="119" fill="#4cab90"/>
<rect x="970" y="678" width="2" height="132" fill="#4cab90"/>
<rect x="981" y="611" width="2" height="255" fill="#f55257"/>
<rect x="993" y="790" width="2" height="82" fill="#4cab90"/>
<rect x="1005" y="754" width="2" height="70" fill="#f55257"/>
<rect x="1016" y="755" width="2" height="53" fill="#4cab90"/>
<rect x="1028" y="743" width="2" height="100" fill="#f55257"/>
<rect x="1040" y="820" width="2" height="29" fill="#4cab90"/>
<rect x="1052" y="811" width="2" height="51" fill="#f55257"/>
<rect x="1063" y="848" width="2" height="56" fill="#4cab90"/>
<rect x="1075" y="804" width="2" height="82" fill="#4cab90"/>
<rect x="1087" y="800" width="2" height="38" fill="#f55257"/>
<rect x="1098" y="819" width="2" height="30" fill="#4cab90"/>
<rect x="1110" y="766" width="2" height="55" fill="#4cab90"/>
<rect x="1122" y="704" width="2" height="88" fill="#4cab90"/>
<rect x="1133" y="690" width="2" height="89" fill="#f55257"/>
<rect x="1145" y="750" width="2" height="31" fill="#4cab90"/>
<rect x="1157" y="744" width="2" height="28" fill="#4cab90"/>
<rect x="1168" y="770" width="2" height="83" fill="#f55257"/>
<rect x="1180" y="804" width="2" height="37" fill="#f55257"/>
<rect x="1192" y="820" width="2" height="31" fill="#f55257"/>
<rect x="1203" y="829" width="2" height="40" fill="#f55257"/>
<rect x="1215" y="845" width="2" height="100" fill="#f55257"/>
<rect x="1227" y="894" width="2" height="31" fill="#4cab90"/>
<rect x="1238" y="873" width="2" height="46" fill="#f55257"/>
<rect x="1250" y="886" width="2" height="30" fill="#4cab90"/>
<rect x="1262" y="883" width="2" height="32" fill="#4cab90"/>
<rect x="1274" y="882" width="2" height="18" fill="#f55257"/>
<rect x="1285" y="853" width="2" height="37" fill="#4cab90"/>
<rect x="1297" y="851" width="2" height="37" fill="#f55257"/>
<rect x="1309" y="839" width="2" height="49" fill="#4cab90"/>
<rect x="1320" y="827" width="2" height="31" fill="#4cab90"/>
<rect x="1332" y="801" width="2" height="54" fill="#f55257"/>
<rect x="1344" y="848" width="2" height="34" fill="#f55257"/>
<rect x="1355" y="863" width="2" height="26" fill="#f55257"/>
<rect x="1367" y="845" width="2" height="36" fill="#4cab90"/>
<rect x="1379" y="844" width="2" height="37" fill="#4cab90"/>
<rect x="1390" y="804" width="2" height="52" fill="#4cab90"/>
<rect x="1402" y="811" width="2" height="26" fill="#f55257"/>
<rect x="1414" y="783" width="2" height="84" fill="#4cab90"/>
<rect x="1425" y="486" width="2" height="329" fill="#4cab90"/>
<rect x="1437" y="526" width="2" height="90" fill="#4cab90"/>
<rect x="1449" y="467" width="2" height="104" fill="#4cab90"/>
<rect x="1460" y="481" width="2" height="107" fill="#f55257"/>
<rect x="1472" y="477" width="2" height="82" fill="#4cab90"/>
<rect x="1484" y="395" width="2" height="144" fill="#f55257"/>
<rect x="1496" y="494" width="2" height="73" fill="#4cab90"/>
<rect x="1507" y="499" width="2" height="54" fill="#f55257"/>
<rect x="1519" y="540" width="2" height="90" fill="#f55257"/>
<rect x="1531" y="608" width="2" height="98" fill="#f55257"/>
<rect x="1542" y="632" width="2" height="51" fill="#4cab90"/>
<rect x="1554" y="576" width="2" height="57" fill="#4cab90"/>
<rect x="1566" y="573" width="2" height="49" fill="#4cab90"/>
<rect x="1577" y="555" width="2" height="41" fill="#4cab90"/>
<rect x="1589" y="551" width="2" height="36" fill="#4cab90"/>
<rect x="1601" y="540" width="2" height="37" fill="#f55257"/>
<rect x="1612" y="557" width="2" height="35" fill="#f55257"/>
<rect x="1624" y="560" width="2" height="39" fill="#4cab90"/>
<rect x="1636" y="506" width="2" height="77" fill="#4cab90"/>
<rect x="1647" y="521" width="2" height="32" fill="#f55257"/>
<rect x="1659" y="476" width="2" height="67" fill="#4cab90"/>
<rect x="1671" y="482" width="2" height="48" fill="#f55257"/>
<rect x="1682" y="512" width="2" height="63" fill="#f55257"/>
<rect x="1694" y="496" width="2" height="51" fill="#4cab90"/>
<rect x="1706" y="369" width="2" height="152" fill="#4cab90"/>
<rect x="1718" y="317" width="2" height="158" fill="#4cab90"/>
<rect x="1729" y="401" width="2" height="67" fill="#f55257"/>
<rect x="1741" y="386" width="2" height="49" fill="#4cab90"/>
<rect x="1753" y="404" width="2" height="140" fill="#f55257"/>
<rect x="1764" y="504" width="2" height="49" fill="#f55257"/>
<rect x="1776" y="507" width="2" height="57" fill="#4cab90"/>
<rect x="1788" y="512" width="2" height="84" fill="#f55257"/>
<rect x="1799" y="540" width="2" height="48" fill="#f55257"/>
<rect x="1811" y="553" width="2" height="60" fill="#4cab90"/>
<rect x="1823" y="556" width="2" height="29" fill="#f55257"/>
<rect x="1834" y="539" width="2" height="46" fill="#4cab90"/>
<rect x="1846" y="517" width="2" height="50" fill="#4cab90"/>
<rect x="1858" y="514" width="2" height="23" fill="#f55257"/>
<rect x="1869" y="489" width="2" height="31" fill="#4cab90"/>
<rect x="1881" y="503" width="2" height="33" fill="#4cab90"/>
<rect x="1893" y="503" width="2" height="26" fill="#f55257"/>
<rect x="1905" y="517" width="2" height="31" fill="#f55257"/>
<rect x="1916" y="512" width="2" height="30" fill="#4cab90"/>
<rect x="1928" y="511" width="2" height="56" fill="#f55257"/>
<rect x="1940" y="528" width="2" height="21" fill="#f55257"/>
<rect x="1951" y="503" width="2" height="39" fill="#4cab90"/>
<rect x="1963" y="478" width="2" height="48" fill="#4cab90"/>
<rect x="1975" y="474" width="2" height="72" fill="#f55257"/>
<rect x="1986" y="482" width="2" height="74" fill="#f55257"/>
<rect x="1998" y="542" width="2" height="135" fill="#f55257"/>
<rect x="2010" y="601" width="2" height="45" fill="#4cab90"/>
<rect x="2021" y="599" width="2" height="43" fill="#4cab90"/>
<rect x="2033" y="559" width="2" height="80" fill="#4cab90"/>
<rect x="2045" y="547" width="2" height="38" fill="#f55257"/>
<rect x="2056" y="546" width="2" height="122" fill="#f55257"/>
<rect x="2068" y="607" width="2" height="105" fill="#f55257"/>
<rect x="2080" y="631" width="2" height="135" fill="#4cab90"/>
<rect x="2091" y="632" width="2" height="95" fill="#f55257"/>
<rect x="2103" y="633" width="2" height="191" fill="#f55257"/>
<rect x="2115" y="741" width="2" height="228" fill="#f55257"/>
<rect x="2127" y="882" width="2" height="138" fill="#4cab90"/>
<rect x="2138" y="851" width="2" height="91" fill="#f55257"/>
<rect x="2150" y="888" width="2" height="82" fill="#4cab90"/>
<rect x="2162" y="888" width="2" height="107" fill="#f55257"/>
<rect x="2173" y="940" width="2" height="134" fill="#f55257"/>
<rect x="2185" y="977" width="2" height="153" fill="#4cab90"/>
<rect x="2197" y="916" width="2" height="82" fill="#4cab90"/>
<rect x="2208" y="894" width="2" height="55" fill="#4cab90"/>
<rect x="2220" y="888" width="2" height="66" fill="#f55257"/>
<rect x="2232" y="881" width="2" height="53" fill="#4cab90"/>
<rect x="2243" y="833" width="2" height="65" fill="#4cab90"/>
<rect x="2255" y="835" width="2" height="45" fill="#4cab90"/>
<rect x="2267" y="833" width="2" height="83" fill="#f55257"/>
<rect x="2278" y="876" width="2" height="30" fill="#f55257"/>
<rect x="2290" y="887" width="2" height="61" fill="#f55257"/>
<rect x="2302" y="884" width="2" height="60" fill="#4cab90"/>
<rect x="2313" y="835" width="2" height="64" fill="#4cab90"/>
<rect x="2325" y="844" width="2" height="36" fill="#f55257"/>
<rect x="2337" y="844" width="2" height="47" fill="#4cab90"/>
<rect x="2349" y="853" width="2" height="9" fill="#f55257"/>
</g><g stroke-width="1">
<rect x="-3.5" y="1058.5" width="9" height="14" fill="#469984" stroke="#49a28a"/>
<rect x="8.5" y="1058.5" width="9" height="62" fill="#e3494e" stroke="#ec4e53"/>
<rect x="19.5" y="1120.5" width="9" height="8" fill="#e3494e" stroke="#ec4e53"/>
<rect x="31.5" y="1128.5" width="9" height="20" fill="#e3494e" stroke="#ec4e53"/>
<rect x="43.5" y="1148.5" width="9" height="33" fill="#e3494e" stroke="#ec4e53"/>
<rect x="54.5" y="1181.5" width="9" height="33" fill="#e3494e" stroke="#ec4e53"/>
<rect x="66.5" y="1173.5" width="9" height="41" fill="#469984" stroke="#49a28a"/>
<rect x="78.5" y="1173.5" width="9" height="56" fill="#e3494e" stroke="#ec4e53"/>
<rect x="89.5" y="1201.5" width="9" height="28" fill="#469984" stroke="#49a28a"/>
<rect x="101.5" y="1169.5" width="9" height="31" fill="#469984" stroke="#49a28a"/>
<rect x="113" y="1168" width="10" height="2" fill="#4cab90"/>
<rect x="124.5" y="1124.5" width="9" height="45" fill="#469984" stroke="#49a28a"/>
<rect x="136.5" y="1124.5" width="9" height="6" fill="#e3494e" stroke="#ec4e53"/>
<rect x="148.5" y="1127.5" width="9" height="4" fill="#469984" stroke="#49a28a"/>
<rect x="159.5" y="1124.5" width="9" height="3" fill="#469984" stroke="#49a28a"/>
<rect x="171.5" y="1123.5" width="9" height="2" fill="#e3494e" stroke="#ec4e53"/>
<rect x="183.5" y="1124.5" width="9" height="16" fill="#e3494e" stroke="#ec4e53"/>
<rect x="194.5" y="1135.5" width="9" height="5" fill="#469984" stroke="#49a28a"/>
<rect x="206.5" y="1135.5" width="9" height="20" fill="#e3494e" stroke="#ec4e53"/>
<rect x="218.5" y="1155.5" width="9" height="43" fill="#e3494e" stroke="#ec4e53"/>
<rect x="230.5" y="1171.5" width="9" height="27" fill="#469984" stroke="#49a28a"/>
<rect x="241.5" y="1149.5" width="9" height="22" fill="#469984" stroke="#49a28a"/>
<rect x="253.5" y="1149.5" width="9" height="25" fill="#e3494e" stroke="#ec4e53"/>
<rect x="265.5" y="1167.5" width="9" height="7" fill="#469984" stroke="#49a28a"/>
<rect x="276.5" y="1144.5" width="9" height="23" fill="#469984" stroke="#49a28a"/>
<rect x="288.5" y="1123.5" width="9" height="21" fill="#469984" stroke="#49a28a"/>
<rect x="300.5" y="1076.5" width="9" height="47" fill="#469984" stroke="#49a28a"/>
<rect x="311.5" y="1076.5" width="9" height="21" fill="#e3494e" stroke="#ec4e53"/>
<rect x="323.5" y="1092.5" width="9" height="5" fill="#469984" stroke="#49a28a"/>
<rect x="335.5" y="1092.5" width="9" height="14" fill="#e3494e" stroke="#ec4e53"/>
<rect x="346.5" y="1054.5" width="9" height="52" fill="#469984" stroke="#49a28a"/>
<rect x="358.5" y="1042.5" width="9" height="12" fill="#469984" stroke="#49a28a"/>
<rect x="370.5" y="1042.5" width="9" height="25" fill="#e3494e" stroke="#ec4e53"/>
<rect x="381.5" y="1056.5" width="9" height="11" fill="#469984" stroke="#49a28a"/>
<rect x="393.5" y="977.5" width="9" height="78" fill="#469984" stroke="#49a28a"/>
<rect x="405.5" y="977.5" width="9" height="25" fill="#e3494e" stroke="#ec4e53"/>
<rect x="417.5" y="1002.5" width="9" height="22" fill="#e3494e" stroke="#ec4e53"/>
<rect x="428.5" y="1023.5" width="9" height="2" fill="#469984" stroke="#49a28a"/>
<rect x="440.5" y="1023.5" width="9" height="12" fill="#e3494e" stroke="#ec4e53"/>
<rect x="452" y="1035" width="10" height="2" fill="#f55257"/>
<rect x="463.5" y="1034.5" width="9" height="2" fill="#469984" stroke="#49a28a"/>
<rect x="475.5" y="1022.5" width="9" height="12" fill="#469984" stroke="#49a28a"/>
<rect x="487.5" y="1022.5" width="9" height="22" fill="#e3494e" stroke="#ec4e53"/>
<rect x="498.5" y="1044.5" width="9" height="6" fill="#e3494e" stroke="#ec4e53"/>
<rect x="510.5" y="1050.5" width="9" height="9" fill="#e3494e" stroke="#ec4e53"/>
<rect x="522.5" y="1031.5" width="9" height="28" fill="#469984" stroke="#49a28a"/>
<rect x="533.5" y="1027.5" width="9" height="4" fill="#469984" stroke="#49a28a"/>
<rect x="545.5" y="1012.5" width="9" height="15" fill="#469984" stroke="#49a28a"/>
<rect x="557.5" y="1012.5" width="9" height="17" fill="#e3494e" stroke="#ec4e53"/>
<rect x="568.5" y="1029.5" width="9" height="5" fill="#e3494e" stroke="#ec4e53"/>
<rect x="580.5" y="1034.5" width="9" height="15" fill="#e3494e" stroke="#ec4e53"/>
<rect x="592.5" y="1049.5" width="9" height="28" fill="#e3494e" stroke="#ec4e53"/>
<rect x="603.5" y="1043.5" width="9" height="34" fill="#469984" stroke="#49a28a"/>
<rect x="615" y="1043" width="10" height="2" fill="#f55257"/>
<rect x="627" y="1043" width="10" height="2" fill="#f55257"/>
<rect x="639.5" y="1039.5" width="9" height="5" fill="#469984" stroke="#49a28a"/>
<rect x="650.5" y="1039.5" width="9" height="15" fill="#e3494e" stroke="#ec4e53"/>
<rect x="662.5" y="1035.5" width="9" height="19" fill="#469984" stroke="#49a28a"/>
<rect x="674.5" y="1012.5" width="9" height="23" fill="#469984" stroke="#49a28a"/>
<rect x="685.5" y="949.5" width="9" height="63" fill="#469984" stroke="#49a28a"/>
<rect x="697.5" y="873.5" width="9" height="76" fill="#469984" stroke="#49a28a"/>
<rect x="709.5" y="873.5" width="9" height="36" fill="#e3494e" stroke="#ec4e53"/>
<rect x="720.5" y="909.5" width="9" height="48" fill="#e3494e" stroke="#ec4e53"/>
<rect x="732.5" y="939.5" width="9" height="18" fill="#469984" stroke="#49a28a"/>
<rect x="744.5" y="939.5" width="9" height="26" fill="#e3494e" stroke="#ec4e53"/>
<rect x="755.5" y="941.5" width="9" height="25" fill="#469984" stroke="#49a28a"/>
<rect x="767" y="941" width="10" height="2" fill="#f55257"/>
<rect x="779.5" y="940.5" width="9" height="2" fill="#469984" stroke="#49a28a"/>
<rect x="790.5" y="940.5" width="9" height="11" fill="#e3494e" stroke="#ec4e53"/>
<rect x="802.5" y="940.5" width="9" height="11" fill="#469984" stroke="#49a28a"/>
<rect x="814.5" y="940.5" width="9" height="6" fill="#e3494e" stroke="#ec4e53"/>
<rect x="825.5" y="946.5" width="9" height="24" fill="#e3494e" stroke="#ec4e53"/>
<rect x="837.5" y="962.5" width="9" height="8" fill="#469984" stroke="#49a28a"/>
<rect x="849.5" y="952.5" width="9" height="10" fill="#469984" stroke="#49a28a"/>
<rect x="861.5" y="934.5" width="9" height="18" fill="#469984" stroke="#49a28a"/>
<rect x="872.5" y="891.5" width="9" height="43" fill="#469984" stroke="#49a28a"/>
<rect x="884.5" y="891.5" width="9" height="22" fill="#e3494e" stroke="#ec4e53"/>
<rect x="896.5" y="903.5" width="9" height="11" fill="#469984" stroke="#49a28a"/>
<rect x="907.5" y="903.5" width="9" height="34" fill="#e3494e" stroke="#ec4e53"/>
<rect x="919.5" y="937.5" width="9" height="22" fill="#e3494e" stroke="#ec4e53"/>
<rect x="931.5" y="929.5" width="9" height="30" fill="#469984" stroke="#49a28a"/>
<rect x="942.5" y="869.5" width="9" height="60" fill="#469984" stroke="#49a28a"/>
<rect x="954.5" y="808.5" width="9" height="61" fill="#469984" stroke="#49a28a"/>
<rect x="966.5" y="770.5" width="9" height="38" fill="#469984" stroke="#49a28a"/>
<rect x="977.5" y="770.5" width="9" height="69" fill="#e3494e" stroke="#ec4e53"/>
<rect x="989.5" y="794.5" width="9" height="45" fill="#469984" stroke="#49a28a"/>
<rect x="1001.5" y="794.5" width="9" height="10" fill="#e3494e" stroke="#ec4e53"/>
<rect x="1012.5" y="774.5" width="9" height="30" fill="#469984" stroke="#49a28a"/>
<rect x="1024.5" y="774.5" width="9" height="57" fill="#e3494e" stroke="#ec4e53"/>
<rect x="1036" y="830" width="10" height="2" fill="#4cab90"/>
<rect x="1048.5" y="830.5" width="9" height="31" fill="#e3494e" stroke="#ec4e53"/>
<rect x="1059.5" y="853.5" width="9" height="8" fill="#469984" stroke="#49a28a"/>
<rect x="1071.5" y="815.5" width="9" height="38" fill="#469984" stroke="#49a28a"/>
<rect x="1083.5" y="815.5" width="9" height="13" fill="#e3494e" stroke="#ec4e53"/>
<rect x="1094.5" y="819.5" width="9" height="9" fill="#469984" stroke="#49a28a"/>
<rect x="1106.5" y="776.5" width="9" height="44" fill="#469984" stroke="#49a28a"/>
<rect x="1118.5" y="733.5" width="9" height="43" fill="#469984" stroke="#49a28a"/>
<rect x="1129.5" y="733.5" width="9" height="43" fill="#e3494e" stroke="#ec4e53"/>
<rect x="1141.5" y="771.5" width="9" height="5" fill="#469984" stroke="#49a28a"/>
<rect x="1153" y="770" width="10" height="2" fill="#4cab90"/>
<rect x="1164.5" y="770.5" width="9" height="38" fill="#e3494e" stroke="#ec4e53"/>
<rect x="1176.5" y="808.5" width="9" height="22" fill="#e3494e" stroke="#ec4e53"/>
<rect x="1188.5" y="830.5" width="9" height="12" fill="#e3494e" stroke="#ec4e53"/>
<rect x="1199.5" y="842.5" width="9" height="3" fill="#e3494e" stroke="#ec4e53"/>
<rect x="1211.5" y="845.5" width="9" height="77" fill="#e3494e" stroke="#ec4e53"/>
<rect x="1223.5" y="912.5" width="9" height="10" fill="#469984" stroke="#49a28a"/>
<rect x="1234.5" y="912.5" width="9" height="3" fill="#e3494e" stroke="#ec4e53"/>
<rect x="1246.5" y="910.5" width="9" height="5" fill="#469984" stroke="#49a28a"/>
<rect x="1258.5" y="883.5" width="9" height="27" fill="#469984" stroke="#49a28a"/>
<rect x="1270.5" y="883.5" width="9" height="6" fill="#e3494e" stroke="#ec4e53"/>
<rect x="1281.5" y="862.5" width="9" height="27" fill="#469984" stroke="#49a28a"/>
<rect x="1293.5" y="862.5" width="9" height="25" fill="#e3494e" stroke="#ec4e53"/>
<rect x="1305.5" y="842.5" width="9" height="45" fill="#469984" stroke="#49a28a"/>
<rect x="1316.5" y="839.5" width="9" height="3" fill="#469984" stroke="#49a28a"/>
<rect x="1328.5" y="839.5" width="9" height="12" fill="#e3494e" stroke="#ec4e53"/>
<rect x="1340.5" y="851.5" width="9" height="20" fill="#e3494e" stroke="#ec4e53"/>
<rect x="1351.5" y="871.5" width="9" height="8" fill="#e3494e" stroke="#ec4e53"/>
<rect x="1363.5" y="871.5" width="9" height="8" fill="#469984" stroke="#49a28a"/>
<rect x="1375.5" y="854.5" width="9" height="17" fill="#469984" stroke="#49a28a"/>
<rect x="1386.5" y="817.5" width="9" height="38" fill="#469984" stroke="#49a28a"/>
<rect x="1398.5" y="817.5" width="9" height="11" fill="#e3494e" stroke="#ec4e53"/>
<rect x="1410.5" y="800.5" width="9" height="28" fill="#469984" stroke="#49a28a"/>
<rect x="1421.5" y="559.5" width="9" height="241" fill="#469984" stroke="#49a28a"/>
<rect x="1433.5" y="545.5" width="9" height="14" fill="#469984" stroke="#49a28a"/>
<rect x="1445.5" y="492.5" width="9" height="53" fill="#469984" stroke="#49a28a"/>
<rect x="1456.5" y="492.5" width="9" height="32" fill="#e3494e" stroke="#ec4e53"/>
<rect x="1468.5" y="490.5" width="9" height="34" fill="#469984" stroke="#49a28a"/>
<rect x="1480.5" y="490.5" width="9" height="30" fill="#e3494e" stroke="#ec4e53"/>
<rect x="1492.5" y="499.5" width="9" height="21" fill="#469984" stroke="#49a28a"/>
<rect x="1503.5" y="499.5" width="9" height="51" fill="#e3494e" stroke="#ec4e53"/>
<rect x="1515.5" y="550.5" width="9" height="58" fill="#e3494e" stroke="#ec4e53"/>
<rect x="1527.5" y="608.5" width="9" height="42" fill="#e3494e" stroke="#ec4e53"/>
<rect x="1538.5" y="632.5" width="9" height="18" fill="#469984" stroke="#49a28a"/>
<rect x="1550.5" y="598.5" width="9" height="34" fill="#469984" stroke="#49a28a"/>
<rect x="1562.5" y="591.5" width="9" height="7" fill="#469984" stroke="#49a28a"/>
<rect x="1573.5" y="586.5" width="9" height="5" fill="#469984" stroke="#49a28a"/>
<rect x="1585.5" y="556.5" width="9" height="30" fill="#469984" stroke="#49a28a"/>
<rect x="1597.5" y="556.5" width="9" height="20" fill="#e3494e" stroke="#ec4e53"/>
<rect x="1608.5" y="576.5" width="9" height="3" fill="#e3494e" stroke="#ec4e53"/>
<rect x="1620.5" y="574.5" width="9" height="5" fill="#469984" stroke="#49a28a"/>
<rect x="1632.5" y="532.5" width="9" height="42" fill="#469984" stroke="#49a28a"/>
<rect x="1643.5" y="531.5" width="9" height="11" fill="#e3494e" stroke="#ec4e53"/>
<rect x="1655.5" y="494.5" width="9" height="48" fill="#469984" stroke="#49a28a"/>
<rect x="1667.5" y="494.5" width="9" height="18" fill="#e3494e" stroke="#ec4e53"/>
<rect x="1678.5" y="512.5" width="9" height="27" fill="#e3494e" stroke="#ec4e53"/>
<rect x="1690.5" y="499.5" width="9" height="40" fill="#469984" stroke="#49a28a"/>
<rect x="1702.5" y="474.5" width="9" height="25" fill="#469984" stroke="#49a28a"/>
<rect x="1714.5" y="403.5" width="9" height="71" fill="#469984" stroke="#49a28a"/>
<rect x="1725.5" y="403.5" width="9" height="29" fill="#e3494e" stroke="#ec4e53"/>
<rect x="1737.5" y="406.5" width="9" height="26" fill="#469984" stroke="#49a28a"/>
<rect x="1749.5" y="406.5" width="9" height="106" fill="#e3494e" stroke="#ec4e53"/>
<rect x="1760.5" y="512.5" width="9" height="34" fill="#e3494e" stroke="#ec4e53"/>
<rect x="1772.5" y="541.5" width="9" height="5" fill="#469984" stroke="#49a28a"/>
<rect x="1784.5" y="541.5" width="9" height="41" fill="#e3494e" stroke="#ec4e53"/>
<rect x="1795.5" y="582.5" width="9" height="2" fill="#e3494e" stroke="#ec4e53"/>
<rect x="1807.5" y="558.5" width="9" height="26" fill="#469984" stroke="#49a28a"/>
<rect x="1819.5" y="558.5" width="9" height="26" fill="#e3494e" stroke="#ec4e53"/>
<rect x="1830.5" y="549.5" width="9" height="35" fill="#469984" stroke="#49a28a"/>
<rect x="1842.5" y="517.5" width="9" height="32" fill="#469984" stroke="#49a28a"/>
<rect x="1854.5" y="516.5" width="9" height="2" fill="#e3494e" stroke="#ec4e53"/>
<rect x="1865.5" y="508.5" width="9" height="9" fill="#469984" stroke="#49a28a"/>
<rect x="1877.5" y="504.5" width="9" height="4" fill="#469984" stroke="#49a28a"/>
<rect x="1889.5" y="504.5" width="9" height="17" fill="#e3494e" stroke="#ec4e53"/>
<rect x="1901.5" y="521.5" width="9" height="14" fill="#e3494e" stroke="#ec4e53"/>
<rect x="1912.5" y="521.5" width="9" height="14" fill="#469984" stroke="#49a28a"/>
<rect x="1924.5" y="521.5" width="9" height="14" fill="#e3494e" stroke="#ec4e53"/>
<rect x="1936.5" y="535.5" width="9" height="6" fill="#e3494e" stroke="#ec4e53"/>
<rect x="1947.5" y="510.5" width="9" height="31" fill="#469984" stroke="#49a28a"/>
<rect x="1959.5" y="484.5" width="9" height="26" fill="#469984" stroke="#49a28a"/>
<rect x="1971.5" y="484.5" width="9" height="15" fill="#e3494e" stroke="#ec4e53"/>
<rect x="1982.5" y="499.5" width="9" height="43" fill="#e3494e" stroke="#ec4e53"/>
<rect x="1994.5" y="542.5" width="9" height="100" fill="#e3494e" stroke="#ec4e53"/>
<rect x="2006.5" y="614.5" width="9" height="28" fill="#469984" stroke="#49a28a"/>
<rect x="2017.5" y="605.5" width="9" height="9" fill="#469984" stroke="#49a28a"/>
<rect x="2029.5" y="573.5" width="9" height="32" fill="#469984" stroke="#49a28a"/>
<rect x="2041.5" y="572.5" width="9" height="2" fill="#e3494e" stroke="#ec4e53"/>
<rect x="2052.5" y="573.5" width="9" height="72" fill="#e3494e" stroke="#ec4e53"/>
<rect x="2064.5" y="645.5" width="9" height="12" fill="#e3494e" stroke="#ec4e53"/>
<rect x="2076.5" y="654.5" width="9" height="3" fill="#469984" stroke="#49a28a"/>
<rect x="2087.5" y="654.5" width="9" height="3" fill="#e3494e" stroke="#ec4e53"/>
<rect x="2099.5" y="657.5" width="9" height="124" fill="#e3494e" stroke="#ec4e53"/>
<rect x="2111.5" y="781.5" width="9" height="133" fill="#e3494e" stroke="#ec4e53"/>
<rect x="2123.5" y="884.5" width="9" height="30" fill="#469984" stroke="#49a28a"/>
<rect x="2134.5" y="884.5" width="9" height="31" fill="#e3494e" stroke="#ec4e53"/>
<rect x="2146.5" y="889.5" width="9" height="26" fill="#469984" stroke="#49a28a"/>
<rect x="2158.5" y="889.5" width="9" height="51" fill="#e3494e" stroke="#ec4e53"/>
<rect x="2169.5" y="940.5" width="9" height="56" fill="#e3494e" stroke="#ec4e53"/>
<rect x="2181.5" y="982.5" width="9" height="14" fill="#469984" stroke="#49a28a"/>
<rect x="2193.5" y="931.5" width="9" height="51" fill="#469984" stroke="#49a28a"/>
<rect x="2204.5" y="918.5" width="9" height="13" fill="#469984" stroke="#49a28a"/>
<rect x="2216.5" y="918.5" width="9" height="6" fill="#e3494e" stroke="#ec4e53"/>
<rect x="2228.5" y="890.5" width="9" height="34" fill="#469984" stroke="#49a28a"/>
<rect x="2239.5" y="840.5" width="9" height="50" fill="#469984" stroke="#49a28a"/>
<rect x="2251.5" y="836.5" width="9" height="4" fill="#469984" stroke="#49a28a"/>
<rect x="2263.5" y="836.5" width="9" height="48" fill="#e3494e" stroke="#ec4e53"/>
<rect x="2274.5" y="884.5" width="9" height="6" fill="#e3494e" stroke="#ec4e53"/>
<rect x="2286.5" y="890.5" width="9" height="42" fill="#e3494e" stroke="#ec4e53"/>
<rect x="2298.5" y="898.5" width="9" height="34" fill="#469984" stroke="#49a28a"/>
<rect x="2309.5" y="853.5" width="9" height="45" fill="#469984" stroke="#49a28a"/>
<rect x="2321" y="853" width="10" height="2" fill="#f55257"/>
<rect x="2333" y="853" width="10" height="2" fill="#4cab90"/>
<rect x="2345.5" y="853.5" width="9" height="8" fill="#e3494e" stroke="#ec4e53"/>
</g>
<line x1="0" y1="861" x2="3092" y2="861" stroke="#f5515a" stroke-width="2" stroke-dasharray="2 4" shape-rendering="crispEdges"/>
<rect x="0" y="1606" width="3090" height="2" fill="#2a2e39"/>
<rect x="3094" y="1606" width="146" height="2" fill="#2a2e39"/>
<rect x="0" y="1662" width="3240" height="2" fill="#2a2e39"/>
<g fill="#b2b5be" font-size="25">
<text x="3113.6" y="9" textLength="110" lengthAdjust="spacing">31500.00</text>
<text x="3113.6" y="80.9" textLength="110" lengthAdjust="spacing">31400.00</text>
<text x="3113.6" y="152.8" textLength="110" lengthAdjust="spacing">31300.00</text>
<text x="3113.6" y="224.6" textLength="110" lengthAdjust="spacing">31200.00</text>
<text x="3113.6" y="296.5" textLength="110" lengthAdjust="spacing">31100.00</text>
<text x="3113.6" y="368.4" textLength="110" lengthAdjust="spacing">31000.00</text>
<text x="3113.6" y="440.2" textLength="110" lengthAdjust="spacing">30900.00</text>
<text x="3113.6" y="512.1" textLength="110" lengthAdjust="spacing">30800.00</text>
<text x="3113.6" y="584" textLength="110" lengthAdjust="spacing">30700.00</text>
<text x="3113.6" y="655.9" textLength="110" lengthAdjust="spacing">30600.00</text>
<text x="3113.6" y="727.7" textLength="110" lengthAdjust="spacing">30500.00</text>
<text x="3113.6" y="799.6" textLength="110" lengthAdjust="spacing">30400.00</text>
<text x="3113.6" y="871.5" textLength="110" lengthAdjust="spacing">30300.00</text>
<text x="3113.6" y="943.3" textLength="110" lengthAdjust="spacing">30200.00</text>
<text x="3113.6" y="1015.2" textLength="110" lengthAdjust="spacing">30100.00</text>
<text x="3113.6" y="1087.1" textLength="110" lengthAdjust="spacing">30000.00</text>
<text x="3113.6" y="1159" textLength="110" lengthAdjust="spacing">29900.00</text>
<text x="3113.6" y="1230.8" textLength="110" lengthAdjust="spacing">29800.00</text>
<text x="3113.6" y="1302.7" textLength="110" lengthAdjust="spacing">29700.00</text>
<text x="3113.6" y="1374.6" textLength="110" lengthAdjust="spacing">29600.00</text>
<text x="3113.6" y="1446.4" textLength="110" lengthAdjust="spacing">29500.00</text>
<text x="3113.6" y="1518.3" textLength="110" lengthAdjust="spacing">29400.00</text>
<text x="3113.6" y="1590.2" textLength="110" lengthAdjust="spacing">29300.00</text>
</g>
<path d="M3092 844h140a6 6 0 0 1 6 6v22a6 6 0 0 1 -6 6h-140z" fill="#e0454f"/>
<text x="3113.6" y="870" font-size="25" fill="#ffffff" textLength="110" lengthAdjust="spacing">30301.50</text>
<g fill="#b2b5be" font-size="24" text-anchor="middle">
<text x="1.2" y="1644.4" textLength="65.8" lengthAdjust="spacing">18:00</text>
<text x="282.6" y="1644.4" font-weight="bold" textLength="28.5" lengthAdjust="spacing">13</text>
<text x="562.1" y="1644.4" textLength="65.8" lengthAdjust="spacing">06:00</text>
<text x="842.5" y="1644.4" textLength="65.8" lengthAdjust="spacing">12:00</text>
<text x="1123" y="1644.4" textLength="65.8" lengthAdjust="spacing">18:00</text>
<text x="1404.4" y="1644.4" font-weight="bold" textLength="28.5" lengthAdjust="spacing">14</text>
<text x="1683.8" y="1644.4" textLength="65.8" lengthAdjust="spacing">06:00</text>
<text x="1964.3" y="1644.4" textLength="65.8" lengthAdjust="spacing">12:00</text>
<text x="2244.7" y="1644.4" textLength="65.8" lengthAdjust="spacing">18:00</text>
<text x="2526.2" y="1644.4" font-weight="bold" textLength="28.5" lengthAdjust="spacing">15</text>
<text x="2805.6" y="1644.4" textLength="65.8" lengthAdjust="spacing">06:00</text>
</g>
<clipPath id="tc"><rect x="3000" y="1610" width="91.6" height="50"/></clipPath>
<g clip-path="url(#tc)"><text x="3054" y="1644.4" font-size="24" fill="#b2b5be" textLength="65.8" lengthAdjust="spacing">12:00</text></g>
<g stroke="#b2b5be" stroke-width="2.2" fill="none" stroke-linecap="round">
<circle cx="3169.6" cy="1634.2" r="10.5"/>
<line x1="3181.1" y1="1634.2" x2="3184.6" y2="1634.2"/>
<line x1="3177.7" y1="1642.3" x2="3180.2" y2="1644.8"/>
<line x1="3169.6" y1="1645.7" x2="3169.6" y2="1649.2"/>
<line x1="3161.5" y1="1642.3" x2="3159" y2="1644.8"/>
<line x1="3158.1" y1="1634.2" x2="3154.6" y2="1634.2"/>
<line x1="3161.5" y1="1626.1" x2="3159" y2="1623.6"/>
<line x1="3169.6" y1="1622.7" x2="3169.6" y2="1619.2"/>
<line x1="3177.7" y1="1626.1" x2="3180.2" y2="1623.6"/>
</g>
<text x="19.3" y="41.9" font-size="32" fill="#d1d4dc" textLength="617.3" lengthAdjust="spacing">Binance BTCUSDT perpetual · 15 · Binance</text>
<circle cx="684.7" cy="29.8" r="18" fill="#1e3038"/>
<circle cx="684.7" cy="29.8" r="8" fill="#469a87"/>
<text x="736" y="43.6" font-size="26" fill="#d1d4dc">O</text>
<text x="758.5" y="43.6" font-size="26" fill="#e3494e" textLength="118.5" lengthAdjust="spacing">30313.00</text>
<text x="891.6" y="43.6" font-size="26" fill="#d1d4dc">H</text>
<text x="912.8" y="43.6" font-size="26" fill="#e3494e" textLength="119.2" lengthAdjust="spacing">30313.00</text>
<text x="1046" y="43.6" font-size="26" fill="#d1d4dc">L</text>
<text x="1063" y="43.6" font-size="26" fill="#e3494e" textLength="118" lengthAdjust="spacing">30300.50</text>
<text x="1195" y="43.6" font-size="26" fill="#d1d4dc">C</text>
<text x="1217" y="43.6" font-size="26" fill="#e3494e" textLength="118" lengthAdjust="spacing">30301.50</text>
<text x="1349" y="43.6" font-size="26" fill="#e3494e" textLength="208.6" lengthAdjust="spacing">−11.50 (−0.04%)</text>
<text x="19.3" y="88.5" font-size="25" fill="#d1d4dc" textLength="65.6" lengthAdjust="spacingAndGlyphs">VPVR</text>
<text x="94.3" y="88.5" font-size="25" fill="#868993" textLength="400.1" lengthAdjust="spacing">Number Of Rows 24 Up/Down 70</text>
<text x="524.8" y="88.5" font-size="26" fill="#3a8ee6" textLength="103.2" lengthAdjust="spacing">44.993K</text>
<text x="642" y="88.5" font-size="26" fill="#f0bd3c" textLength="103" lengthAdjust="spacing">42.179K</text>
<text x="760" y="88.5" font-size="26" fill="#4d4f56" textLength="103.6" lengthAdjust="spacing">87.173K</text>
<circle cx="46.1" cy="1562.2" r="32.3" fill="none" stroke="#8a9aa6" stroke-opacity="0.28" stroke-width="2.4"/>
<g fill="#d2fcff">
<path d="M26.1 1552.3H44V1573.9H36.1V1559.9H26.1z"/>
<circle cx="49.9" cy="1556.1" r="3.8"/>
<path d="M57.8 1552.3H68.8L59.7 1573.9H50.3z"/>
</g>
</svg></body></html>
